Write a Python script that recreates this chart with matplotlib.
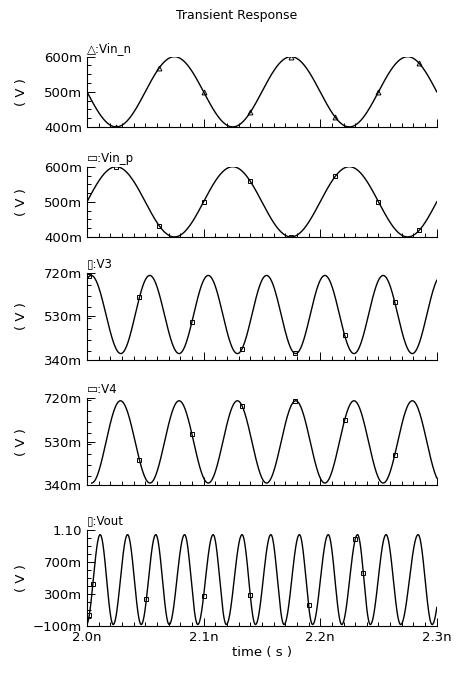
import numpy as np
import matplotlib
matplotlib.use('Agg')
import matplotlib.pyplot as plt
from matplotlib.ticker import MultipleLocator

plt.rcParams['font.family'] = ['DejaVu Sans']

# extrema (time in ns, volts), curve is drawn between them
vin_n_t = [1.975, 2.025, 2.075, 2.125, 2.175, 2.225, 2.275, 2.325]
vin_n_v = [0.60, 0.40, 0.60, 0.40, 0.60, 0.40, 0.60, 0.40]
vin_p_t = [1.975, 2.025, 2.075, 2.125, 2.175, 2.225, 2.275, 2.325]
vin_p_v = [0.40, 0.60, 0.40, 0.60, 0.40, 0.60, 0.40, 0.60]
v3_t = [1.978, 2.0036, 2.029, 2.0538, 2.079, 2.104, 2.129, 2.154, 2.179, 2.204, 2.229, 2.254, 2.279, 2.304]
v3_v = [0.367, 0.708, 0.367, 0.708, 0.367, 0.708, 0.367, 0.708, 0.367, 0.708, 0.367, 0.708, 0.367, 0.708]
v4_t = [2.004, 2.0287, 2.054, 2.079, 2.104, 2.129, 2.154, 2.179, 2.204, 2.229, 2.254, 2.279, 2.304]
v4_v = [0.350, 0.709, 0.350, 0.709, 0.350, 0.709, 0.350, 0.709, 0.350, 0.709, 0.350, 0.709, 0.350]
vout_t = [1.9995, 2.0113, 2.0225, 2.0348, 2.0465, 2.0590, 2.0705, 2.0837, 2.0950, 2.1082, 2.1195,
          2.1330, 2.1445, 2.1577, 2.1690, 2.1822, 2.1935, 2.2069, 2.2185, 2.2320, 2.2430, 2.2565,
          2.2690, 2.2840, 2.2960, 2.31]
vout_v = [-0.085, 1.04] * 13

# marker times for each trace
mk_vin_n = [2.025, 2.062, 2.1, 2.14, 2.175, 2.213, 2.25, 2.285]
mk_vin_p = [2.025, 2.062, 2.1, 2.14, 2.175, 2.213, 2.25, 2.285]
mk_v3 = [2.002, 2.045, 2.09, 2.133, 2.178, 2.221, 2.264]
mk_v4 = [2.002, 2.045, 2.09, 2.133, 2.178, 2.221, 2.264]
mk_vout = [2.002, 2.005, 2.051, 2.10, 2.14, 2.19, 2.23, 2.237]

t = np.linspace(1.97, 2.33, 4000)


def cos_between(tt, vv):
    out = np.full_like(t, np.nan)
    for i in range(len(tt) - 1):
        m = (t >= tt[i]) & (t <= tt[i + 1])
        f = (t[m] - tt[i]) / (tt[i + 1] - tt[i])
        out[m] = vv[i] + (vv[i + 1] - vv[i]) * (1 - np.cos(np.pi * f)) / 2
    return out


panels = [
    ('\u25b3:Vin_n', cos_between(vin_n_t, vin_n_v), mk_vin_n, '^', (0.4, 0.6), [0.4, 0.5, 0.6], ['400m', '500m', '600m'], 0.025, [0.1835, 0.812, 0.738, 0.104]),
    ('\u25ad:Vin_p', cos_between(vin_p_t, vin_p_v), mk_vin_p, 's', (0.4, 0.6), [0.4, 0.5, 0.6], ['400m', '500m', '600m'], 0.025, [0.1835, 0.649, 0.738, 0.104]),
    ('\u25af:V3', cos_between(v3_t, v3_v), mk_v3, 's', (0.34, 0.72), [0.34, 0.53, 0.72], ['340m', '530m', '720m'], 0.0475, [0.1835, 0.467, 0.738, 0.129]),
    ('\u25ad:V4', cos_between(v4_t, v4_v), mk_v4, 's', (0.34, 0.72), [0.34, 0.53, 0.72], ['340m', '530m', '720m'], 0.0475, [0.1835, 0.281, 0.738, 0.129]),
    ('\u25af:Vout', cos_between(vout_t, vout_v), mk_vout, 's', (-0.1, 1.1), [-0.1, 0.3, 0.7, 1.1], ['\u2212100m', '300m', '700m', '1.10'], 0.1, [0.1835, 0.073, 0.738, 0.142]),
]

fig = plt.figure(figsize=(4.74, 6.75), dpi=100)
fig.text(0.5, 0.977, 'Transient Response', ha='center', va='center', fontsize=9)

for i, (name, y, mk, mstyle, ylim, yt, ytl, ymin_step, pos) in enumerate(panels):
    ax = fig.add_axes(pos)
    ax.plot(t, y, color='black', lw=1.0)
    ax.plot(mk, np.interp(mk, t, y), linestyle='none', marker=mstyle,
            ms=3.5, mfc='none', mec='black', mew=0.7)
    ax.set_xlim(2.0, 2.3)
    ax.set_ylim(ylim)
    for s in ['top', 'right']:
        ax.spines[s].set_visible(False)
    ax.set_yticks(yt)
    ax.set_yticklabels(ytl, fontsize=9.5)
    ax.yaxis.set_minor_locator(MultipleLocator(ymin_step))
    ax.set_xticks([2.0, 2.1, 2.2, 2.3])
    ax.xaxis.set_minor_locator(MultipleLocator(0.01))
    ax.tick_params(which='both', direction='in', width=0.7)
    ax.tick_params(which='major', length=6)
    ax.tick_params(which='minor', length=3)
    if i == 4:
        ax.set_xticklabels(['2.0n', '2.1n', '2.2n', '2.3n'], fontsize=9.5)
        ax.set_xlabel('time ( s )', fontsize=9.5, labelpad=2)
    else:
        ax.set_xticklabels([])
    ax.set_ylabel('( V )', fontsize=9.5)
    ax.yaxis.set_label_coords(-0.17, 0.5)
    ax.text(0.0, 1.03, name, transform=ax.transAxes, fontsize=8.5, va='bottom', ha='left')

fig.savefig('out.png', dpi=100)
